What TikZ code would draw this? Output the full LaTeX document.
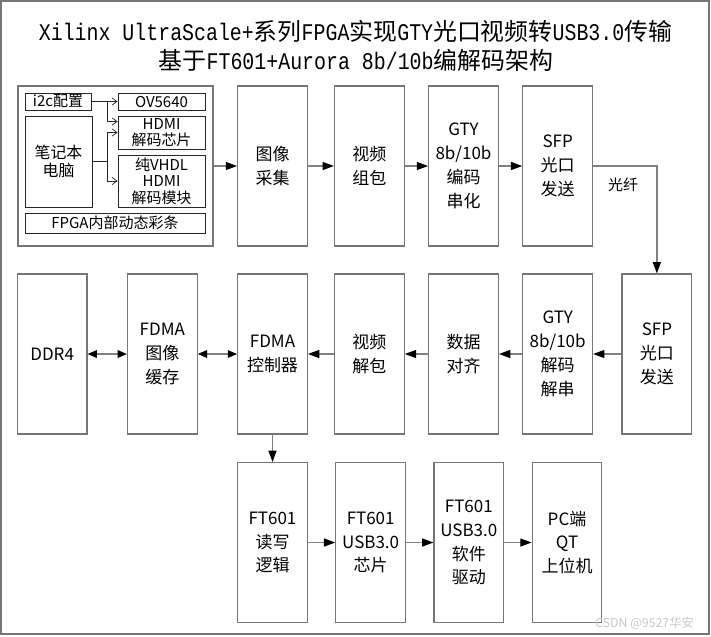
\documentclass[tikz,border=0pt]{standalone}
\usepackage{fontspec}
\setmainfont{Noto Sans CJK SC}
\newfontfamily\titlelat[FakeStretch=0.833]{Liberation Mono}
\newfontfamily\titlecjk{Noto Sans CJK SC}
\usepackage{tikz}
\usetikzlibrary{positioning}
\usetikzlibrary{arrows.meta}

\definecolor{framegray}{RGB}{118,118,118}
\definecolor{linegray}{RGB}{128,128,128}
\definecolor{markgray}{RGB}{200,200,200}

\tikzset{
  blk/.style={draw=framegray, line width=1pt, minimum width=2.09cm, minimum height=4.8cm,
    inner sep=0pt, align=center, font=\fontsize{14.5pt}{20.4pt}\selectfont},
  sub/.style={draw=black!85, line width=0.7pt, inner sep=0pt, align=center,
    font=\fontsize{12.8pt}{14pt}\selectfont},
  flow/.style={draw=linegray, line width=1.1pt, -{Triangle[length=3.4mm,width=2.4mm,color=black]}},
  both/.style={draw=linegray, line width=1.1pt,
    {Triangle[length=2.8mm,width=2.3mm,color=black]}-{Triangle[length=2.8mm,width=2.3mm,color=black]}},
  feed/.style={draw=black!85, line width=0.6pt, -{Straight Barb[length=1.5mm,width=2.2mm]}},
}

\begin{document}
\begin{tikzpicture}[x=0.03cm, y=-0.03cm]
    \useasboundingbox (0,0) rectangle (711,636);
    \draw[framegray, line width=1.4pt] (1,1) rectangle (709,634);

    % title
    \node[anchor=base, font=\fontsize{20.4pt}{24pt}\selectfont] (title1) at (355.5,40)
        {\titlelat Xilinx UltraScale+\titlecjk 系列\titlelat FPGA\titlecjk 实现\titlelat GTY\titlecjk 光口视频转\titlelat USB3.0\titlecjk 传输};
    \node[anchor=base, font=\fontsize{20.4pt}{24pt}\selectfont] (title2) at (356,69)
        {\titlecjk 基于\titlelat FT601+Aurora 8b/10b\titlecjk 编解码架构};

    % video sources
    \node[draw=framegray, line width=1pt, minimum width=5.85cm, minimum height=4.8cm] (src) at (115.5,166) {};
    \node[sub, minimum width=1.98cm, minimum height=0.51cm] (i2c) at (58,101.5) {i2c配置};
    \node[sub, minimum width=2.01cm, minimum height=2.73cm, font=\fontsize{13.6pt}{16pt}\selectfont] (lap) at (58.5,161.5) {笔记本\\电脑};
    \node[sub, minimum width=2.61cm, minimum height=0.51cm] (ov) at (161.5,101.5) {OV5640};
    \node[sub, minimum width=2.61cm, minimum height=0.99cm] (hchip) at (161.5,132.5) {HDMI\\解码芯片};
    \node[sub, minimum width=2.61cm, minimum height=1.56cm] (vhdl) at (161.5,181) {纯VHDL\\HDMI\\解码模块};
    \node[sub, minimum width=5.4cm, minimum height=0.6cm] (bar) at (115,223) {FPGA内部动态彩条};

    \coordinate (j1) at ([xshift=0.48cm]i2c.east);
    \coordinate (j2) at ([xshift=0.45cm]lap.east);
    \draw[feed] (i2c.east) -- (ov.west);
    \draw[feed] (i2c.east) -- (j1) |- ([yshift=0.33cm]hchip.west);
    \draw[feed] (lap.east) -- (j2) |- (hchip.west);
    \draw[feed] (lap.east) -- (j2) |- (vhdl.west);

    % transmit row
    \node[blk] (cap) at (272.5,166) {图像\\采集};
    \node[blk, right=0.78cm of cap] (pack) {视频\\组包};
    \node[blk, right=0.7cm of pack] (enc) {GTY\\8b/10b\\编码\\串化};
    \node[blk, right=0.7cm of enc] (sfpt) {SFP\\光口\\发送};

    % receive row
    \node[blk] (ctrl) at (272.5,354) {FDMA\\控制器};
    \node[blk, right=0.78cm of ctrl] (unpk) {视频\\解包};
    \node[blk, right=0.7cm of unpk] (aln) {数据\\对齐};
    \node[blk, right=0.7cm of aln] (dec) {GTY\\8b/10b\\解码\\解串};
    \node[blk, right=0.85cm of dec] (sfpr) {SFP\\光口\\发送};
    \node[blk, left=1.18cm of ctrl] (cache) {FDMA\\图像\\缓存};
    \node[blk, left=1.18cm of cache] (ddr) {DDR4};

    % usb row
    \node[blk, below=0.82cm of ctrl] (rw) {FT601\\读写\\逻辑};
    \node[blk, right=0.82cm of rw] (chip) {FT601\\USB3.0\\芯片};
    \node[blk, right=0.82cm of chip] (drv) {FT601\\USB3.0\\软件\\驱动};
    \node[blk, right=0.82cm of drv] (pc) {PC端\\QT\\上位机};

    \draw[flow] (src.east) -- (cap.west);
    \draw[flow] (cap) -- (pack);
    \draw[flow] (pack) -- (enc);
    \draw[flow] (enc) -- (sfpt);
    \draw[flow] (sfpt.east) -| (sfpr.north);
    \node[font=\fontsize{12.8pt}{14pt}\selectfont] (fiber) at (623,185) {光纤};

    \draw[flow] (sfpr) -- (dec);
    \draw[flow] (dec) -- (aln);
    \draw[flow] (aln) -- (unpk);
    \draw[flow] (unpk) -- (ctrl);
    \draw[both] (ctrl) -- (cache);
    \draw[both] (cache) -- (ddr);

    \draw[flow] (ctrl) -- (rw);
    \draw[flow] (rw) -- (chip);
    \draw[flow] (chip) -- (drv);
    \draw[flow] (drv) -- (pc);

    \node[anchor=east, text=markgray, font=\fontsize{10.5pt}{12pt}\selectfont] (mark) at (698,623) {CSDN @9527华安};
\end{tikzpicture}
\end{document}
